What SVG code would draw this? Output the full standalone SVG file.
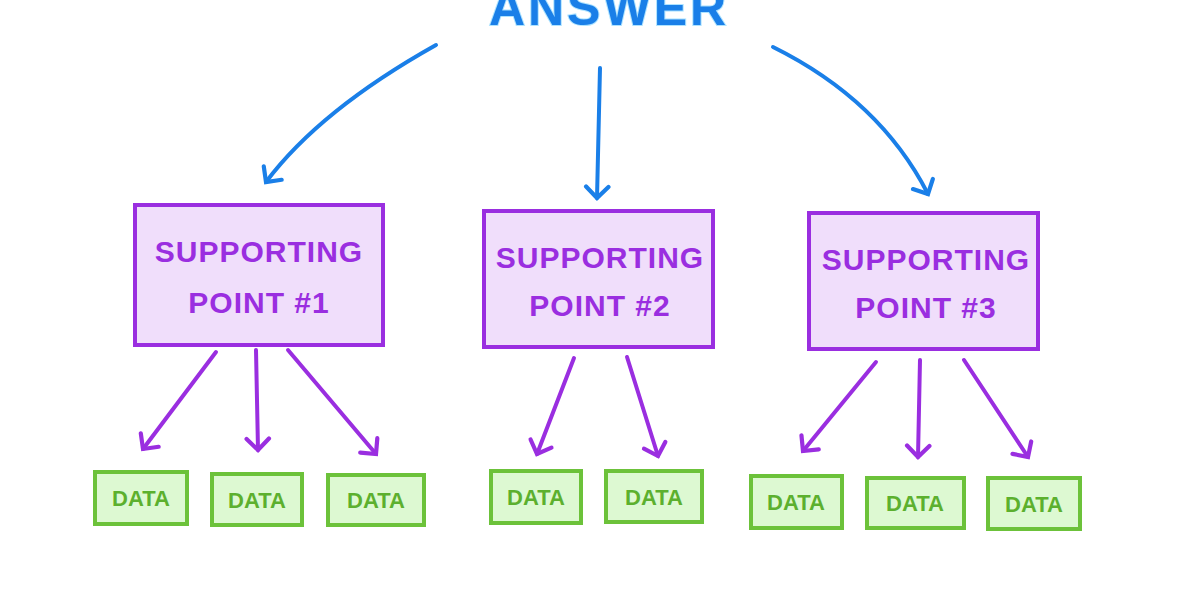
<svg xmlns="http://www.w3.org/2000/svg" width="1200" height="600" viewBox="0 0 1200 600">
<style>
.sp rect{fill:#f0defb;stroke:#9a2ee0;stroke-width:4}
.sp text{font-family:"Liberation Sans",sans-serif;font-size:30px;font-weight:bold;fill:#9a2ee0;text-anchor:middle;letter-spacing:1px}
.d rect{fill:#ddf9d2;stroke:#6cc23a;stroke-width:4}
.d text{font-family:"Liberation Sans",sans-serif;font-size:22px;font-weight:bold;fill:#5cb02e;text-anchor:middle}
.b{fill:none;stroke:#1a7fe8;stroke-width:4;stroke-linecap:round;marker-end:url(#mb)}
.p{fill:none;stroke:#9a2ee0;stroke-width:4;stroke-linecap:round;marker-end:url(#mp)}
</style>
<defs>
<marker id="mb" viewBox="0 0 20 20" refX="10" refY="10" markerWidth="7" markerHeight="7" orient="auto" markerUnits="strokeWidth"><path d="M2 2 L10 10 L2 18" fill="none" stroke="#1a7fe8" stroke-width="3" stroke-linecap="round"/></marker>
<marker id="mp" viewBox="0 0 20 20" refX="10" refY="10" markerWidth="7" markerHeight="7" orient="auto" markerUnits="strokeWidth"><path d="M2 2 L10 10 L2 18" fill="none" stroke="#9a2ee0" stroke-width="3" stroke-linecap="round"/></marker>
</defs>
<rect width="1200" height="600" fill="#ffffff"/>
<g id="answer"><text x="609" y="25" font-family="Liberation Sans,sans-serif" font-weight="bold" font-size="50" fill="#1a7fe8" stroke="#aee3ff" stroke-width="2" paint-order="stroke" text-anchor="middle" letter-spacing="3">ANSWER</text></g>
<g id="connectors">
<path class="b" d="M436 45 Q320 110 266 182"/>
<path class="b" d="M600 68 L597 198"/>
<path class="b" d="M773 47 Q880 100 928 194"/>
<path class="p" d="M216 352 L143 449"/>
<path class="p" d="M256 350 L258 450"/>
<path class="p" d="M288 350 L376 454"/>
<path class="p" d="M574 358 L537 454"/>
<path class="p" d="M627 357 L658 456"/>
<path class="p" d="M876 362 L803 451"/>
<path class="p" d="M920 360 L918 457"/>
<path class="p" d="M964 360 L1028 457"/>
</g>
<g id="sp1" class="sp"><rect x="135" y="205" width="248" height="140"/><text x="259" y="262">SUPPORTING</text><text x="259" y="313">POINT #1</text></g>
<g id="sp2" class="sp"><rect x="484" y="211" width="229" height="136"/><text x="600" y="268">SUPPORTING</text><text x="600" y="316">POINT #2</text></g>
<g id="sp3" class="sp"><rect x="809" y="213" width="229" height="136"/><text x="926" y="270">SUPPORTING</text><text x="926" y="318">POINT #3</text></g>
<g id="d1" class="d"><rect x="95" y="472" width="92" height="52"/><text x="141" y="506">DATA</text></g>
<g id="d2" class="d"><rect x="212" y="474" width="90" height="51"/><text x="257" y="508">DATA</text></g>
<g id="d3" class="d"><rect x="328" y="475" width="96" height="50"/><text x="376" y="508">DATA</text></g>
<g id="d4" class="d"><rect x="491" y="471" width="90" height="52"/><text x="536" y="505">DATA</text></g>
<g id="d5" class="d"><rect x="606" y="471" width="96" height="51"/><text x="654" y="505">DATA</text></g>
<g id="d6" class="d"><rect x="751" y="476" width="91" height="52"/><text x="796" y="510">DATA</text></g>
<g id="d7" class="d"><rect x="867" y="478" width="97" height="50"/><text x="915" y="511">DATA</text></g>
<g id="d8" class="d"><rect x="988" y="478" width="92" height="51"/><text x="1034" y="512">DATA</text></g>
</svg>
